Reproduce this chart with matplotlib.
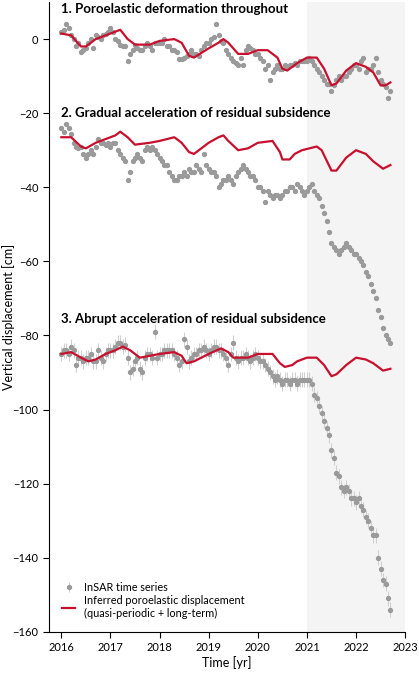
import numpy as np
import matplotlib
matplotlib.use("Agg")
import matplotlib.pyplot as plt

plt.rcParams['font.family'] = ['Lato', 'DejaVu Sans']

t0, dt = 2016.0, 0.05
s1 = [2, 2.5, 4, 3, 1, 0, -2, -1, -3.5, -3,
      -2.5, -1, 0, -2.5, 1, 0.5, 0, 1, 1.5, 2,
      3, 2, 0, -0.5, -1.5, -2, -2, -6, -4, -3,
      -1.5, -2.5, -3, -3, -2, -1, -2, -3, -1, -1,
      -1, -1, 0, -2, -2, -3, -3, -3.5, -5.5, -5.5,
      -5, -4.5, -4, -3, -4, -4, -4.5, -3, -2, -1,
      -1, 0, 0.5, 4, 1, -0.5, -1, -3, -4, -5,
      -6, -6.5, -7, -5, -7, -3, -2, -2.5, -3, -4,
      -4, -5, -6, -8, -7, -11, -9, -8, -7, -8,
      -8, -7, -7.5, -7, -7, -6.5, -7, -6, -6, -6,
      -6, -5, -6, -7, -8, -9, -10, -11, -12, -12,
      -14, -12.5, -11, -10, -11, -10, -10, -9, -8, -7,
      -7, -8, -6, -5, -9, -8, -8, -7, -5, -9,
      -11, -12, -13, -16, -14]
s2 = [-24, -25, -23, -24, -25.5, -28, -29, -29.5, -29, -31,
      -32, -31, -30, -31, -29, -27, -28, -28, -28.5, -28,
      -29, -28, -28, -30, -31, -32, -33, -38, -36, -33,
      -32, -31, -32, -33, -30, -29, -30, -29, -30, -31,
      -32, -33, -34, -34, -36, -37, -38, -38, -37, -37,
      -36, -37, -35, -36, -36, -34, -35, -36, -31, -34,
      -35, -36, -36, -37, -40, -39, -38, -38, -37, -38,
      -39, -37, -36, -35, -34, -35, -36, -37, -37, -38,
      -40, -40, -41, -44, -41, -42, -43, -42, -42, -43,
      -42, -41, -41, -40, -40, -41, -39, -40, -41, -42,
      -41, -40, -39, -41, -42, -43, -45, -47, -49, -52,
      -55, -56, -57, -58, -57, -56, -55, -56, -57, -58,
      -58, -59, -60, -61, -63, -64, -66, -68, -70, -73,
      -75, -78, -80, -81, -82]
s3 = [-85, -84, -84, -85, -83, -84, -88, -86, -86, -87,
      -86, -86, -85, -87, -87, -84, -86, -87, -85, -84,
      -84, -84, -83, -82, -82, -83, -82.5, -86, -90, -89,
      -87, -86, -89, -90, -86, -85, -85, -86, -79, -86,
      -85, -85, -84, -84, -84, -84, -85, -86, -88, -87,
      -81, -83, -87, -86, -85, -85, -84, -84, -83, -84,
      -85, -84, -83, -83, -84, -84, -85, -86, -88, -85,
      -82, -86, -87, -86, -86, -85, -86, -87, -86, -85,
      -86, -87, -87, -88, -89, -90, -91, -92, -91, -92,
      -93, -92, -92, -93, -92, -92, -93, -92, -92, -92,
      -92, -92, -93, -96, -97, -99, -101, -103, -105, -107,
      -111, -113, -117, -118, -121, -122, -121, -122, -124, -124,
      -125, -124, -126, -127, -129, -130, -132, -134, -134, -140,
      -143, -146, -147, -151, -154]
s3_err = 2.0

r1_t = [2016, 2016.2, 2016.4, 2016.5, 2016.7, 2017.0, 2017.2, 2017.35, 2017.5, 2017.8, 2018.0, 2018.3, 2018.45, 2018.6, 2018.7,
        2019.0, 2019.2, 2019.3, 2019.4, 2019.6, 2019.8, 2020.0, 2020.2, 2020.4, 2020.5, 2020.6, 2020.8, 2021.0, 2021.2,
        2021.35, 2021.5, 2021.6, 2021.8, 2022.0, 2022.2, 2022.35, 2022.5, 2022.6, 2022.7]
r1_y = [1.5, 1, -2, -2, 0, 1.5, 2.5, 0, -1.5, -1.5, -0.5, 0, -1, -4.5, -5,
        -2.5, -1, 0, -1, -4, -4, -3, -3, -5, -8, -8.5, -6.5, -5, -5,
        -8, -12.5, -12, -8.5, -6.5, -7.5, -9, -12.5, -12.5, -11.7]
r2_t = [2016, 2016.2, 2016.4, 2016.5, 2016.7, 2016.9, 2017.1, 2017.2, 2017.35, 2017.5, 2017.8, 2018.0, 2018.3, 2018.45, 2018.6,
        2018.7, 2019.0, 2019.2, 2019.3, 2019.4, 2019.6, 2019.8, 2020.0, 2020.3, 2020.45, 2020.5, 2020.65, 2020.75, 2020.9,
        2021.2, 2021.3, 2021.5, 2021.6, 2021.8, 2022.0, 2022.2, 2022.35, 2022.55, 2022.7]
r2_y = [-26.5, -26.5, -29, -29.5, -28, -27, -26, -25, -26.5, -28.5, -28, -27.5, -26.5, -28, -30.5,
        -31, -28, -26.5, -26, -27.5, -30, -29.5, -28, -27.5, -30.5, -32.5, -32.5, -31, -30,
        -29, -30, -35.5, -35.5, -32, -30, -31, -33, -35, -34]
r3_t = [2016, 2016.2, 2016.4, 2016.55, 2016.7, 2016.9, 2017.1, 2017.25, 2017.4, 2017.6, 2017.8, 2018.0, 2018.3, 2018.45,
        2018.55, 2018.7, 2019.0, 2019.25, 2019.4, 2019.5, 2019.8, 2020.0, 2020.3, 2020.45, 2020.55, 2020.7, 2020.8, 2021.0,
        2021.2, 2021.35, 2021.5, 2021.6, 2021.8, 2022.0, 2022.2, 2022.35, 2022.55, 2022.7]
r3_y = [-85, -84.5, -86, -87, -86.5, -85, -84, -83, -84, -86, -85.5, -85, -84.5, -85.5,
        -87.5, -87, -85, -83.5, -84.5, -86, -86, -85, -85, -87.5, -88.5, -88, -87, -86,
        -86, -88, -91, -90.5, -88, -86, -86.5, -87.5, -89.5, -89]

titles = ["1. Poroelastic deformation throughout",
          "2. Gradual acceleration of residual subsidence",
          "3. Abrupt acceleration of residual subsidence"]
title_y = [8, -20, -75.5]

t = t0 + dt * np.arange(len(s1))
grey = '#9a9a9a'
red = '#c8102e'

fig = plt.figure(figsize=(4.19, 6.75), dpi=100)
ax = fig.add_axes([0.117, 0.064, 0.850, 0.933])
ax.axvspan(2021, 2023, color='#f4f4f4', zorder=0, lw=0)

eb = ax.errorbar(t, s3, yerr=s3_err, fmt='o', ms=2.8, color=grey, ecolor='#d0d0d0', elinewidth=0.8, zorder=2)
ax.plot(t, s1, 'o', ms=2.8, color=grey, zorder=2)
ax.plot(t, s2, 'o', ms=2.8, color=grey, zorder=2)
ln, = ax.plot(r1_t, r1_y, color=red, lw=1.6, zorder=3)
ax.plot(r2_t, r2_y, color=red, lw=1.6, zorder=3)
ax.plot(r3_t, r3_y, color=red, lw=1.6, zorder=3)

for s, y in zip(titles, title_y):
    ax.text(2016.0, y, s, fontsize=9.5, fontweight='bold', va='center', ha='left')

ax.set_xlim(2015.75, 2023)
ax.set_ylim(-160, 10)
ax.set_xticks(range(2016, 2024))
ax.set_yticks(range(-160, 1, 20))
ax.tick_params(labelsize=8, length=4)
for sp in ['top', 'right']:
    ax.spines[sp].set_visible(False)
ax.set_xlabel('Time [yr]', fontsize=9, labelpad=2)
ax.set_ylabel('Vertical displacement [cm]', fontsize=9)
ax.yaxis.set_label_coords(-0.095, 0.5)
ax.legend([eb, ln], ['InSAR time series',
                     'Inferred poroelastic displacement\n(quasi-periodic + long-term)'],
          loc='lower left', frameon=False, fontsize=7.8, handlelength=1.2, borderaxespad=0.8,
          labelspacing=0.2)
fig.savefig('out.png', dpi=100)
